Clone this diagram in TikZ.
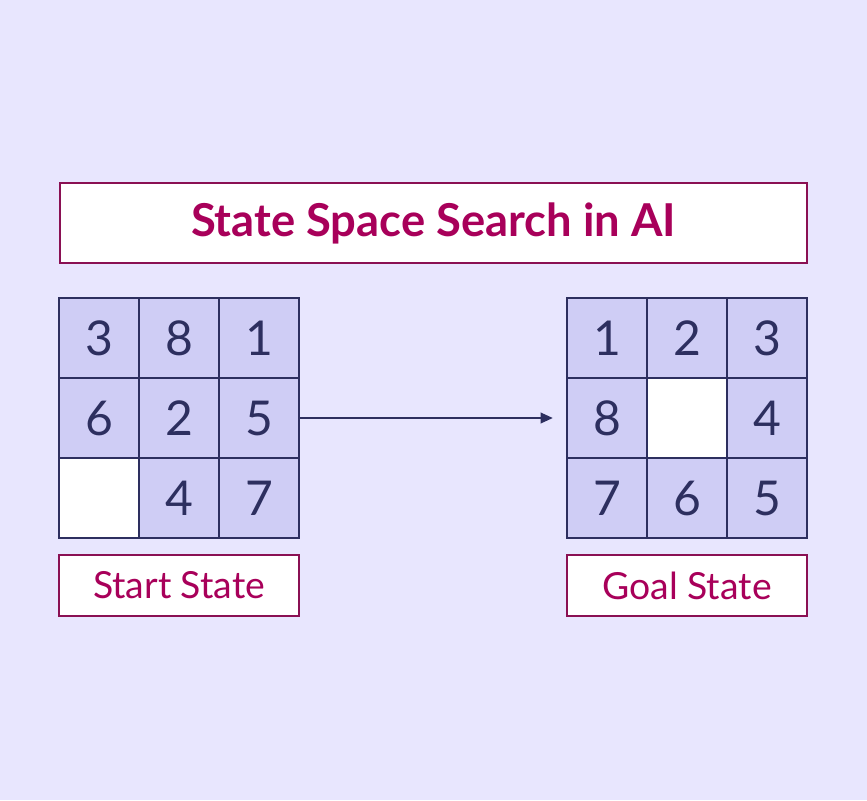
\documentclass[tikz,border=0pt]{standalone}
\usepackage{fontspec}
\setmainfont{Lato}
\usetikzlibrary{positioning,arrows.meta,calc}
\definecolor{lavbg}{HTML}{E8E6FE}
\definecolor{tilefill}{HTML}{CFCDF5}
\definecolor{navyline}{HTML}{2D2F5F}
\definecolor{berrytext}{HTML}{A8005A}
\definecolor{berryline}{HTML}{8A1053}
\tikzset{
  tile/.style={draw=navyline, fill=tilefill, line width=1.4pt, minimum size=60pt, inner sep=0pt, text=navyline, font=\fontsize{36}{40}\selectfont},
  blank/.style={tile, fill=white},
  labelbox/.style={draw=berryline, fill=white, line width=1.1pt, minimum width=180pt, minimum height=45.75pt, inner sep=0pt, text=berrytext, font=\fontsize{28}{32}\selectfont},
}

\begin{document}
\begin{tikzpicture}[x=0.75pt,y=-0.75pt]
\fill[lavbg] (0,0) rectangle (867,800);
\node[labelbox, minimum width=560.25pt, minimum height=60pt, font=\fontsize{34}{38}\selectfont\bfseries] (title) at (433.5,223) {State Space Search in AI};
% start grid
\foreach \lbl/\sty [count=\i from 0] in {3/tile,8/tile,1/tile,6/tile,2/tile,5/tile,/blank,4/tile,7/tile}{
  \pgfmathtruncatemacro\col{mod(\i,3)}
  \pgfmathtruncatemacro\row{\i/3}
  \node[\sty] (s\i) at (99+80*\col,338+80*\row) {\lbl};
}
% goal grid
\foreach \lbl/\sty [count=\i from 0] in {1/tile,2/tile,3/tile,8/tile,/blank,4/tile,7/tile,6/tile,5/tile}{
  \pgfmathtruncatemacro\col{mod(\i,3)}
  \pgfmathtruncatemacro\row{\i/3}
  \node[\sty] (g\i) at (607+80*\col,338+80*\row) {\lbl};
}
\node[labelbox] (start) at (179,585.5) {Start State};
\node[labelbox] (goal) at (687,585.5) {Goal State};
\draw[navyline, line width=1.1pt, -{Triangle[length=9pt,width=8pt]}, shorten >=10pt] (s5.east) -- (g3.west);
\end{tikzpicture}
\end{document}
